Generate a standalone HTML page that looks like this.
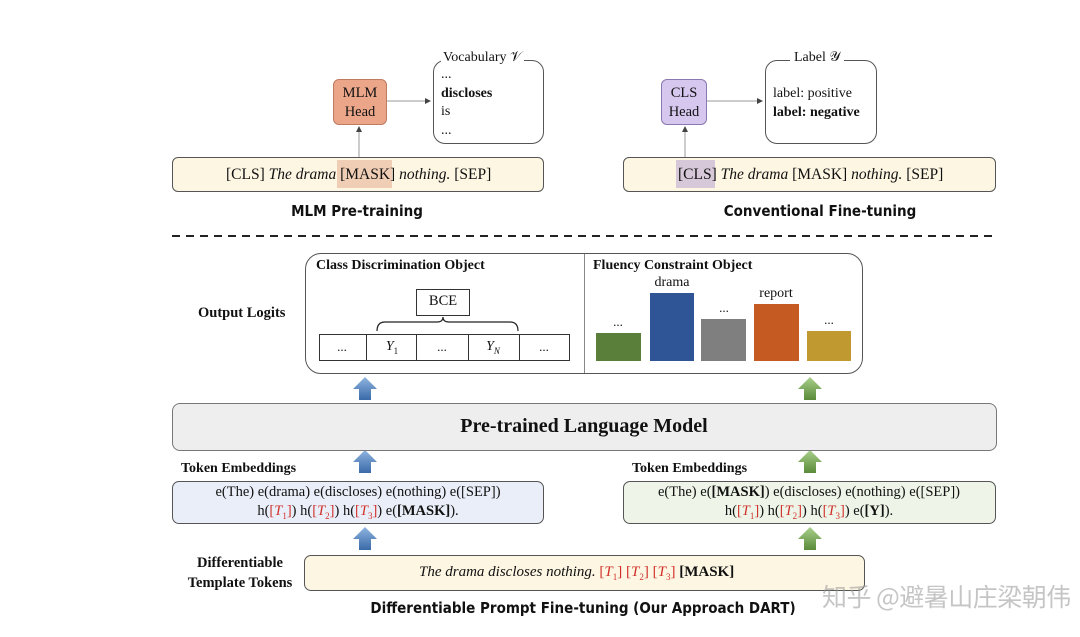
<!DOCTYPE html>
<html><head><meta charset="utf-8"><style>
body{margin:0;background:#fff}
#c{position:relative;width:1080px;height:637px;overflow:hidden;font-family:"Liberation Serif",serif;color:#111}
.a{position:absolute}
.box{position:absolute;border:1.3px solid #555;box-sizing:border-box}
.t{position:absolute;white-space:nowrap}
.cap{position:absolute;font-family:"DejaVu Sans Condensed","DejaVu Sans",sans-serif;font-weight:bold;font-size:15px;white-space:nowrap;transform:translateX(-50%)}
.r{color:#d0302a}
.ctr{transform:translateX(-50%);text-align:center}
</style></head><body><div id="c">
<svg class="a" style="left:0;top:0" width="1080" height="637">
<defs>
<linearGradient id="gb" x1="0" y1="0" x2="0" y2="1"><stop offset="0" stop-color="#8fb4e0"/><stop offset="1" stop-color="#3a6aa8"/></linearGradient>
<linearGradient id="gg" x1="0" y1="0" x2="0" y2="1"><stop offset="0" stop-color="#a8cf8a"/><stop offset="1" stop-color="#5a8a3a"/></linearGradient>
<marker id="ar" markerWidth="6" markerHeight="6" refX="5" refY="3" orient="auto"><path d="M0,0L6,3L0,6z" fill="#444"/></marker>
</defs>
<line x1="359" y1="157" x2="359" y2="127" stroke="#999" marker-end="url(#ar)"/>
<line x1="387" y1="101" x2="430" y2="101" stroke="#999" marker-end="url(#ar)"/>
<line x1="685" y1="157" x2="685" y2="127" stroke="#999" marker-end="url(#ar)"/>
<line x1="707" y1="101" x2="762" y2="101" stroke="#999" marker-end="url(#ar)"/>
<line x1="172" y1="236" x2="992" y2="236" stroke="#222" stroke-width="2" stroke-dasharray="8,6"/>
<path d="M377,331 Q377,322 385,322 L437,322 Q443,322 443,317 Q443,322 449,322 L510,322 Q518,322 518,331" fill="none" stroke="#222" stroke-width="1.2"/>
<rect x="596" y="333" width="45" height="28" fill="#5a7f3a"/>
<rect x="650" y="293" width="44" height="68" fill="#2f5597"/>
<rect x="701" y="319" width="45" height="42" fill="#7f7f7f"/>
<rect x="754" y="304" width="45" height="57" fill="#c55a22"/>
<rect x="807" y="331" width="44" height="30" fill="#c09a30"/>
<path d="M353,389 L365,377 L377,389 L371,389 L371,400 L359,400 L359,389Z" fill="url(#gb)"/>
<path d="M353,462 L365,450 L377,462 L371,462 L371,473 L359,473 L359,462Z" fill="url(#gb)"/>
<path d="M353,539 L365,527 L377,539 L371,539 L371,550 L359,550 L359,539Z" fill="url(#gb)"/>
<path d="M798,389 L810,377 L822,389 L816,389 L816,400 L804,400 L804,389Z" fill="url(#gg)"/>
<path d="M798,462 L810,450 L822,462 L816,462 L816,473 L804,473 L804,462Z" fill="url(#gg)"/>
<path d="M798,539 L810,527 L822,539 L816,539 L816,550 L804,550 L804,539Z" fill="url(#gg)"/>
</svg>

<div class="box" style="left:333px;top:79px;width:54px;height:46px;background:#eba68a;border-color:#c07a60;border-radius:6px"></div>
<div class="t ctr" style="left:360px;top:84px;font-size:14.5px;line-height:19px">MLM<br>Head</div>
<div class="box" style="left:433px;top:60px;width:111px;height:84px;border-radius:12px"></div>
<div class="t" style="left:441px;top:50px;font-size:14px;background:#fff;padding:0 2px">Vocabulary 𝒱</div>
<div class="t" style="left:441px;top:66px;font-size:14px;line-height:18.5px">...<br><b>discloses</b><br>is<br>...</div>
<div class="box" style="left:172px;top:157px;width:372px;height:35px;background:#fdf6e3;border-radius:6px"></div>
<div class="a" style="left:337px;top:160px;width:55px;height:28px;background:#f0cdb5"></div>
<div class="t" style="left:226px;top:166px;font-size:15.5px">[CLS] <i>The drama</i> [MASK] <i>nothing.</i> [SEP]</div>
<div class="cap" style="left:357px;top:202px">MLM Pre-training</div>

<div class="box" style="left:661px;top:79px;width:46px;height:46px;background:#d6c7ef;border-color:#8a78b0;border-radius:6px"></div>
<div class="t ctr" style="left:684px;top:84px;font-size:14.5px;line-height:19px">CLS<br>Head</div>
<div class="box" style="left:765px;top:60px;width:112px;height:84px;border-radius:12px"></div>
<div class="t" style="left:790px;top:50px;font-size:14px;background:#fff;padding:0 4px">Label 𝒴</div>
<div class="t" style="left:773px;top:84px;font-size:14px;line-height:19px">label: positive<br><b>label: negative</b></div>
<div class="box" style="left:623px;top:157px;width:373px;height:35px;background:#fdf6e3;border-radius:6px"></div>
<div class="a" style="left:676px;top:160px;width:39px;height:28px;background:#d6c8d8"></div>
<div class="t" style="left:678px;top:166px;font-size:15.5px">[CLS] <i>The drama</i> [MASK] <i>nothing.</i> [SEP]</div>
<div class="cap" style="left:820px;top:202px">Conventional Fine-tuning</div>

<div class="t" style="left:198px;top:305px;font-size:14.5px;font-weight:bold">Output Logits</div>
<div class="box" style="left:305px;top:253px;width:558px;height:121px;border-radius:16px"></div>
<div class="a" style="left:584px;top:254px;width:1px;height:119px;background:#888"></div>
<div class="t" style="left:316px;top:258px;font-size:14px;font-weight:bold">Class Discrimination Object</div>
<div class="t" style="left:593px;top:258px;font-size:14px;font-weight:bold">Fluency Constraint Object</div>
<div class="box" style="left:416px;top:289px;width:54px;height:27px;border-color:#333"></div>
<div class="t ctr" style="left:443px;top:293px;font-size:14.5px">BCE</div>
<div class="box" style="left:319px;top:334px;width:251px;height:27px;border-color:#333"></div>
<div class="a" style="left:366px;top:334px;width:1px;height:27px;background:#333"></div>
<div class="a" style="left:416px;top:334px;width:1px;height:27px;background:#333"></div>
<div class="a" style="left:468px;top:334px;width:1px;height:27px;background:#333"></div>
<div class="a" style="left:519px;top:334px;width:1px;height:27px;background:#333"></div>
<div class="t ctr" style="left:342px;top:339px;font-size:13px">...</div>
<div class="t ctr" style="left:392px;top:339px;font-size:14px"><i>Y</i><sub style="font-size:9px">1</sub></div>
<div class="t ctr" style="left:442px;top:339px;font-size:13px">...</div>
<div class="t ctr" style="left:493px;top:339px;font-size:14px"><i>Y<sub style="font-size:9px">N</sub></i></div>
<div class="t ctr" style="left:544px;top:339px;font-size:13px">...</div>
<div class="t ctr" style="left:618px;top:314px;font-size:13px">...</div>
<div class="t ctr" style="left:672px;top:275px;font-size:14px">drama</div>
<div class="t ctr" style="left:724px;top:300px;font-size:13px">...</div>
<div class="t ctr" style="left:776px;top:286px;font-size:14px">report</div>
<div class="t ctr" style="left:829px;top:312px;font-size:13px">...</div>

<div class="box" style="left:172px;top:403px;width:825px;height:48px;background:#eeeeee;border-color:#777;border-radius:8px"></div>
<div class="t ctr" style="left:584px;top:415px;font-size:20px;font-weight:bold">Pre-trained Language Model</div>

<div class="t" style="left:181px;top:461px;font-size:14px;font-weight:bold">Token Embeddings</div>
<div class="t" style="left:632px;top:461px;font-size:14px;font-weight:bold">Token Embeddings</div>
<div class="box" style="left:172px;top:481px;width:372px;height:43px;background:#eaeef8;border-radius:7px"></div>
<div class="t ctr" style="left:358px;top:483px;font-size:14.5px;line-height:19px">e(The) e(drama) e(discloses) e(nothing) e([SEP])<br>h(<span class="r">[<i>T</i><sub style="font-size:9px">1</sub>]</span>) h(<span class="r">[<i>T</i><sub style="font-size:9px">2</sub>]</span>) h(<span class="r">[<i>T</i><sub style="font-size:9px">3</sub>]</span>) e(<b>[MASK]</b>).</div>
<div class="box" style="left:623px;top:481px;width:373px;height:43px;background:#eef5e8;border-radius:7px"></div>
<div class="t ctr" style="left:809px;top:483px;font-size:14.5px;line-height:19px">e(The) e(<b>[MASK]</b>) e(discloses) e(nothing) e([SEP])<br>h(<span class="r">[<i>T</i><sub style="font-size:9px">1</sub>]</span>) h(<span class="r">[<i>T</i><sub style="font-size:9px">2</sub>]</span>) h(<span class="r">[<i>T</i><sub style="font-size:9px">3</sub>]</span>) e(<b>[Y]</b>).</div>

<div class="t ctr" style="left:240px;top:553px;font-size:14.5px;font-weight:bold;line-height:20px">Differentiable<br>Template Tokens</div>
<div class="box" style="left:304px;top:555px;width:561px;height:36px;background:#fdf6e3;border-radius:7px"></div>
<div class="t" style="left:419px;top:564px;font-size:15px"><i>The drama discloses nothing.</i> <span class="r">[<i>T</i><sub style="font-size:9px">1</sub>] [<i>T</i><sub style="font-size:9px">2</sub>] [<i>T</i><sub style="font-size:9px">3</sub>]</span> <b>[MASK]</b></div>
<div class="cap" style="left:583px;top:599px">Differentiable Prompt Fine-tuning (Our Approach DART)</div>
<div class="t" style="left:822px;top:578px;font-size:25px;letter-spacing:-0.5px;color:rgba(150,150,150,0.55);font-family:'Noto Sans CJK SC',sans-serif">知乎 @避暑山庄梁朝伟</div>
</div></body></html>
